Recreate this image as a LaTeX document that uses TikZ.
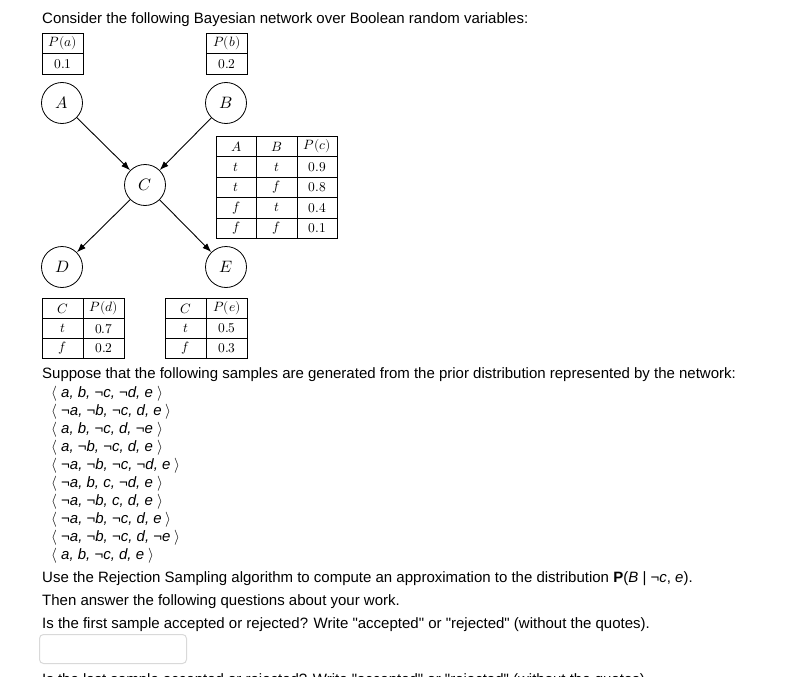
\documentclass[tikz,border=0pt]{standalone}
\usepackage{fontspec}
\usepackage{unicode-math}
\setmainfont{Liberation Sans}
\setmathfont{Latin Modern Math}
\usetikzlibrary{shapes,arrows.meta,positioning}

\begin{document}
\begin{tikzpicture}[x=1pt,y=-1pt,
					cell/.style={draw, line width=0.8pt, anchor=north west, inner sep=0, minimum height=20.4pt, font=\fontsize{13.5}{14}\selectfont},
					var/.style={draw, circle, line width=0.8pt, minimum size=41pt, inner sep=0, font=\fontsize{16.5}{17}\selectfont},
					txt/.style={anchor=base west, inner sep=0, font=\fontsize{15}{18}\selectfont},
					link/.style={line width=0.9pt, -{Latex[length=9pt,width=6.5pt]}}]
    \useasboundingbox (0,0) rectangle (806,677);
    \clip (0,0) rectangle (806,677);
    % Texts
    \node [txt] (intro) at (42,24) {Consider the following Bayesian network over Boolean random variables:};
    % Priors
    \node [cell, minimum width=41pt] (pa-h) at (42,33) {$P(a)$};
    \node [cell, minimum width=41pt] (pa-v) at (42,53.4) {$0.1$};
    \node [cell, minimum width=41pt] (pb-h) at (206,33) {$P(b)$};
    \node [cell, minimum width=41pt] (pb-v) at (206,53.4) {$0.2$};
    % Place nodes
    \node [var] (A) at (62,103) {$A$};
    \node [var] (B) at (226,103) {$B$};
    \node [var] (C) at (145,185) {$C$};
    \node [var] (D) at (62,267) {$D$};
    \node [var] (E) at (226,267) {$E$};
    % Draw edges
    \draw[link] (A) edge (C);
    \draw[link] (B) edge (C);
    \draw[link] (C) edge (D);
    \draw[link] (C) edge (E);
    % CPT of C
    \foreach \a/\b/\p [count=\i] in {A/B/P(c), t/t/0.9, t/f/0.8, f/t/0.4, f/f/0.1}{
    	\node [cell, minimum width=40pt] (pc-\i-a) at (216,{136+20.4*(\i-1)}) {$\a$};
    	\node [cell, minimum width=41pt] (pc-\i-b) at (256,{136+20.4*(\i-1)}) {$\b$};
    	\node [cell, minimum width=40pt] (pc-\i-p) at (297,{136+20.4*(\i-1)}) {$\p$};
    }
    % CPTs of D and E
    \foreach \c/\d/\e [count=\i] in {C/P(d)/P(e), t/0.7/0.5, f/0.2/0.3}{
    	\node [cell, minimum width=41pt] (pd-\i-c) at (42,{298+20*(\i-1)}) {$\c$};
    	\node [cell, minimum width=41pt] (pd-\i-p) at (83,{298+20*(\i-1)}) {$\d$};
    	\node [cell, minimum width=41pt] (pe-\i-c) at (165,{298+20*(\i-1)}) {$\c$};
    	\node [cell, minimum width=41pt] (pe-\i-p) at (206,{298+20*(\i-1)}) {$\e$};
    }
    % Samples
    \node [txt] (suppose) at (42,378) {Suppose that the following samples are generated from the prior distribution represented by the network:};
    \foreach \s [count=\i] in {{a, b, ¬c, ¬d, e}, {¬a, ¬b, ¬c, d, e}, {a, b, ¬c, d, ¬e}, {a, ¬b, ¬c, d, e}, {¬a, ¬b, ¬c, ¬d, e},
    	{¬a, b, c, ¬d, e}, {¬a, ¬b, c, d, e}, {¬a, ¬b, ¬c, d, e}, {¬a, ¬b, ¬c, d, ¬e}, {a, b, ¬c, d, e}}{
    	\node [txt] (s-\i) at (51,{397+18*(\i-1)}) {$\langle$ \textit{\s} $\rangle$};
    }
    % Questions
    \node [txt] (task) at (42,582) {Use the Rejection Sampling algorithm to compute an approximation to the distribution \textbf{P}(\textit{B} | ¬\textit{c}, \textit{e}).};
    \node [txt] (then) at (42,605) {Then answer the following questions about your work.};
    \node [txt] (first) at (42,628) {Is the first sample accepted or rejected? Write \textquotedbl accepted\textquotedbl{} or \textquotedbl rejected\textquotedbl{} (without the quotes).};
    \node [draw=black!15, line width=1pt, rounded corners=4pt, anchor=north west, minimum width=147pt, minimum height=29pt] (answer) at (39,634) {};
    \node [txt] (last) at (42,684) {Is the last sample accepted or rejected? Write \textquotedbl accepted\textquotedbl{} or \textquotedbl rejected\textquotedbl{} (without the quotes).};
\end{tikzpicture}
\end{document}
